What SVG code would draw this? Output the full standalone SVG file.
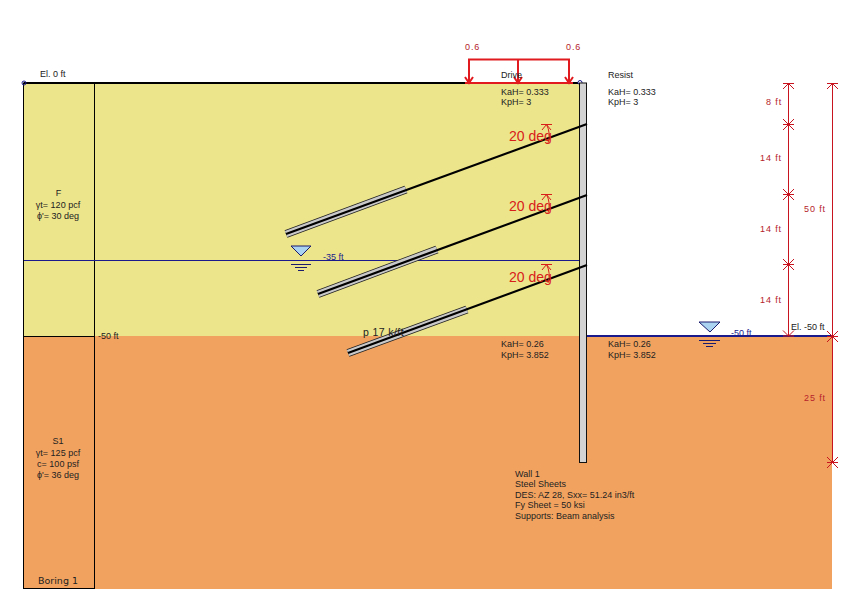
<svg xmlns="http://www.w3.org/2000/svg" width="849" height="601" viewBox="0 0 849 601">
<style>
text{font-family:"Liberation Sans",Arial,sans-serif;font-size:9px;fill:#222}
.r{fill:#b5232b;letter-spacing:.9px}
.b{fill:#1a1a8c}
.m{text-anchor:middle}
.dim{stroke:#c8141e;stroke-width:1;fill:none}
.load{stroke:#e01a1e;stroke-width:2;fill:none}
.ang{stroke:#d8201a;stroke-width:1;fill:none}
.wt{fill:#a9d3f0;stroke:#1a1a6e;stroke-width:1}
.wl{stroke:#1a1a6e;stroke-width:1}
.bond{stroke:#c9c9c9;stroke-width:6.500}
.edge{stroke:#222;stroke-width:8}
.tend{stroke:#000;stroke-width:2.200}
</style>
<rect width="849" height="601" fill="#fff"/>
<g id="soil-F"><rect x="24" y="83" width="555" height="253" fill="#ede58b"/></g>
<g id="soil-S1"><rect x="24" y="336" width="808" height="253" fill="#f2a25f"/></g>
<g id="boring">
<rect x="23.500" y="83" width="71" height="505.500" fill="none" stroke="#000" stroke-width="1"/>
<line x1="24" y1="336.500" x2="94" y2="336.500" stroke="#000"/>
<text x="58" y="584" class="m" style="font-family:'DejaVu Sans',sans-serif;font-size:9.500px">Boring 1</text>
<text x="58.500" y="196" class="m">F</text>
<text x="58" y="208" class="m">γt= 120 pcf</text>
<text x="58" y="219" class="m">ϕ'= 30 deg</text>
<text x="58" y="444" class="m">S1</text>
<text x="58" y="456" class="m">γt= 125 pcf</text>
<text x="58" y="467" class="m">c= 100 psf</text>
<text x="58" y="478" class="m">ϕ'= 36 deg</text>
<text x="98" y="339">-50 ft</text>
</g>
<g id="ground">
<line x1="24" y1="83" x2="579" y2="83" stroke="#000" stroke-width="2"/>
<circle cx="24" cy="83" r="2" fill="none" stroke="#1a1a8c"/>
<circle cx="580" cy="82.500" r="2" fill="#fff" stroke="#1a1a8c"/>
<line x1="587" y1="336" x2="832" y2="336" stroke="#1a1a8c" stroke-width="2"/>
<text x="40" y="77">El. 0 ft</text>
<text x="791" y="330">El. -50 ft</text>
</g>
<g id="water-left">
<line x1="24" y1="260.500" x2="579" y2="260.500" stroke="#1a1a8c" stroke-width="1"/>
<polygon class="wt" points="291,246 311,246 301,256"/>
<line class="wl" x1="291" y1="264.500" x2="311" y2="264.500"/>
<line class="wl" x1="295" y1="267.500" x2="307" y2="267.500"/>
<line class="wl" x1="298" y1="270.500" x2="304" y2="270.500"/>
<text x="323" y="260" class="b">-35 ft</text>
</g>
<g id="water-right">
<polygon class="wt" points="699,322 720,322 710,332"/>
<line class="wl" x1="699" y1="340.500" x2="720" y2="340.500"/>
<line class="wl" x1="703" y1="343.500" x2="716" y2="343.500"/>
<line class="wl" x1="706" y1="346.500" x2="713" y2="346.500"/>
<text x="731" y="336" class="b">-50 ft</text>
</g>
<g id="wall">
<rect x="579.500" y="83" width="7" height="379.500" fill="#d3d3d3" stroke="#111" stroke-width="1"/>
<text x="515" y="477">Wall 1</text>
<text x="515" y="487">Steel Sheets</text>
<text x="515" y="498">DES: AZ 28, Sxx= 51.24 in3/ft</text>
<text x="515" y="508">Fy Sheet = 50 ksi</text>
<text x="515" y="519">Supports: Beam analysis</text>
</g>
<g id="connectors">
<g id="anchor-1">
<line class="edge" x1="406" y1="189.500" x2="286" y2="234"/>
<line class="bond" x1="406" y1="189.500" x2="286" y2="234"/>
<line class="tend" x1="587" y1="124" x2="286" y2="234"/>
</g>
<g id="anchor-2">
<line class="edge" x1="437" y1="249.500" x2="318" y2="294"/>
<line class="bond" x1="437" y1="249.500" x2="318" y2="294"/>
<line class="tend" x1="587" y1="195" x2="318" y2="294"/>
</g>
<g id="anchor-3">
<line class="edge" x1="467" y1="309.500" x2="348" y2="353"/>
<line class="bond" x1="467" y1="309.500" x2="348" y2="353"/>
<line class="tend" x1="587" y1="265" x2="348" y2="353"/>
</g>
<g id="load">
<path class="load" d="M469 83V59.500H569V83M518 59.500V83M465 83H573"/>
<path class="load" stroke-width="1.500" d="M465 77L469 83L473 77M514 77L518 83L522 77M565 77L569 83L573 77"/>
</g>
<g id="angles">
<path class="ang" d="M541 124.500H552M546.500 124.500Q551 133 548 143M542 130L546.500 124.500L551 130"/>
<path class="ang" d="M541 194.500H552M546.500 194.500Q551 203 548 213M542 200L546.500 194.500L551 200"/>
<path class="ang" d="M541 264.500H552M546.500 264.500Q551 273 548 283M542 270L546.500 264.500L551 270"/>
</g>
<g id="dimensions">
<path class="dim" d="M788.500 83V336M832.500 83V462"/>
<path class="dim" d="M783 83.500H794M783 89L788.500 83.500L794 89M827 83.500H838M827 89L832.500 83.500L838 89"/>
<path class="dim" d="M783 124.500H794M783 119L794 130M794 119L783 130"/>
<path class="dim" d="M783 194.500H794M783 189L794 200M794 189L783 200"/>
<path class="dim" d="M783 264.500H794M783 259L794 270M794 259L783 270"/>
<path class="dim" d="M783 330.500L788.500 336L794 330.500M783 336H794"/>
<path class="dim" d="M827 336.500H838M827 331L838 342M838 331L827 342"/>
<path class="dim" d="M827 462.500H838M827 457L838 468M838 457L827 468"/>
</g>
</g>
<g id="labels">
<text x="465" y="50" class="r">0.6</text>
<text x="566" y="50" class="r">0.6</text>
<text x="501" y="78">Drive</text>
<text x="608" y="78">Resist</text>
<text x="501" y="95">KaH= 0.333</text>
<text x="501" y="105">KpH= 3</text>
<text x="608" y="95">KaH= 0.333</text>
<text x="608" y="105">KpH= 3</text>
<text x="501" y="347">KaH= 0.26</text>
<text x="501" y="358">KpH= 3.852</text>
<text x="608" y="347">KaH= 0.26</text>
<text x="608" y="358">KpH= 3.852</text>
<text x="363" y="336" style="font-size:10.500px;letter-spacing:.4px">p 17 k/ft</text>
<text x="509" y="141" style="font-size:14px;fill:#d8201a">20 deg</text>
<text x="509" y="211" style="font-size:14px;fill:#d8201a">20 deg</text>
<text x="509" y="282" style="font-size:14px;fill:#d8201a">20 deg</text>
<text x="766" y="105" class="r">8 ft</text>
<text x="760" y="161" class="r">14 ft</text>
<text x="760" y="232" class="r">14 ft</text>
<text x="760" y="303" class="r">14 ft</text>
<text x="804" y="212" class="r">50 ft</text>
<text x="804" y="401" class="r">25 ft</text>
</g>
</svg>
